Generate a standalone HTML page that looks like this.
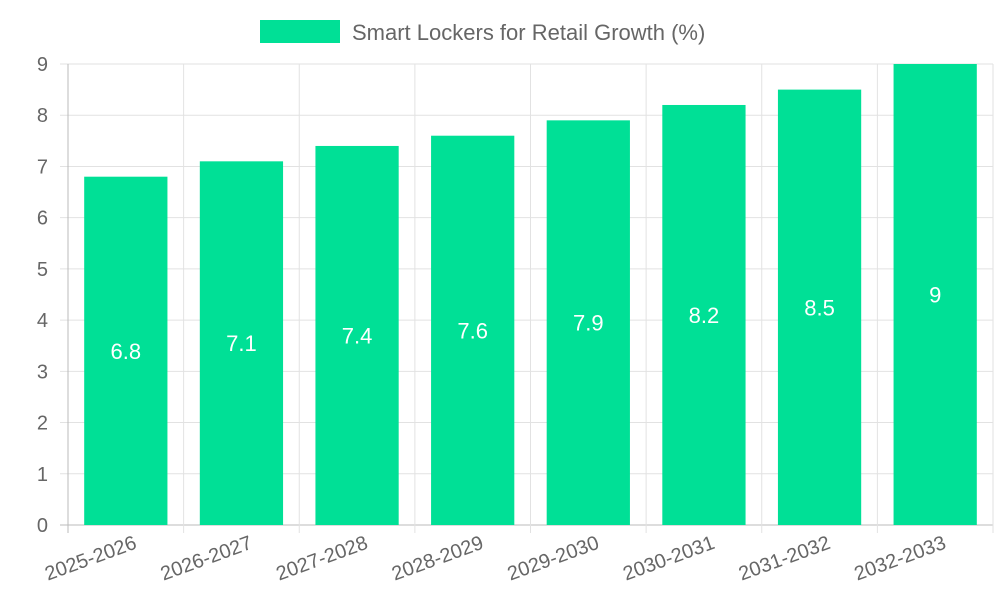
<!DOCTYPE html>
<html><head><meta charset="utf-8"><style>
body{margin:0;background:#fff;font-family:"Liberation Sans",sans-serif}
</style></head><body>
<svg id="chart" width="1000" height="600" xmlns="http://www.w3.org/2000/svg" font-family="Liberation Sans, sans-serif"></svg>
<script>
const categories=["2025-2026","2026-2027","2027-2028","2028-2029","2029-2030","2030-2031","2031-2032","2032-2033"];
const values=[6.8,7.1,7.4,7.6,7.9,8.2,8.5,9];
const yTicks=[0,1,2,3,4,5,6,7,8,9];
const seriesName="Smart Lockers for Retail Growth (%)";
const svg=document.getElementById('chart');
const NS="http://www.w3.org/2000/svg";
const L=68,R=993,T=64,B=525,yMax=9;
const y=v=>B-(B-T)*v/yMax;
const cw=(R-L)/categories.length;
const x=i=>L+cw*i;
function mk(t,a,p){const e=document.createElementNS(NS,t);for(const k in a)e.setAttribute(k,a[k]);(p||svg).appendChild(e);return e;}
// legend
const lg=mk('g',{});


mk('rect',{x:260,y:20,width:80,height:23,fill:'#00e096'},lg);
const lt=mk('text',{x:352,y:40,'font-size':22,fill:'#666'},lg);lt.textContent=seriesName;
// grid
yTicks.forEach(v=>{
  const g=mk('line',{x1:60,x2:R,y1:y(v),y2:y(v),stroke:v===0?'#bbb':'#e2e2e2','stroke-width':1});
  
  
  const t=mk('text',{x:48,y:y(v)+7,'font-size':20,fill:'#666','text-anchor':'end'});t.textContent=v;
  
  
});
for(let i=0;i<=categories.length;i++){
  const g=mk('line',{x1:x(i),x2:x(i),y1:T,y2:B+8,stroke:i===0?'#bbb':'#e2e2e2','stroke-width':1});
  
  
}
categories.forEach((c,i)=>{
  const bw=cw*0.72,bx=x(i)+(cw-bw)/2;
  const r=mk('rect',{x:bx,y:y(values[i]),width:bw,height:B-y(values[i]),fill:'#00e096'});
  
  
  const vl=mk('text',{x:bx+bw/2,y:(y(values[i])+B)/2+8,'font-size':22,fill:'#fff','text-anchor':'middle'});vl.textContent=values[i];
  
  
  const cx=x(i)+cw/2+12,cy=548;
  const t=mk('text',{x:cx,y:cy,'font-size':20,fill:'#666','text-anchor':'end',transform:`rotate(-20 ${cx} ${cy})`});t.textContent=c;
  
  
});
</script>
</body></html>
